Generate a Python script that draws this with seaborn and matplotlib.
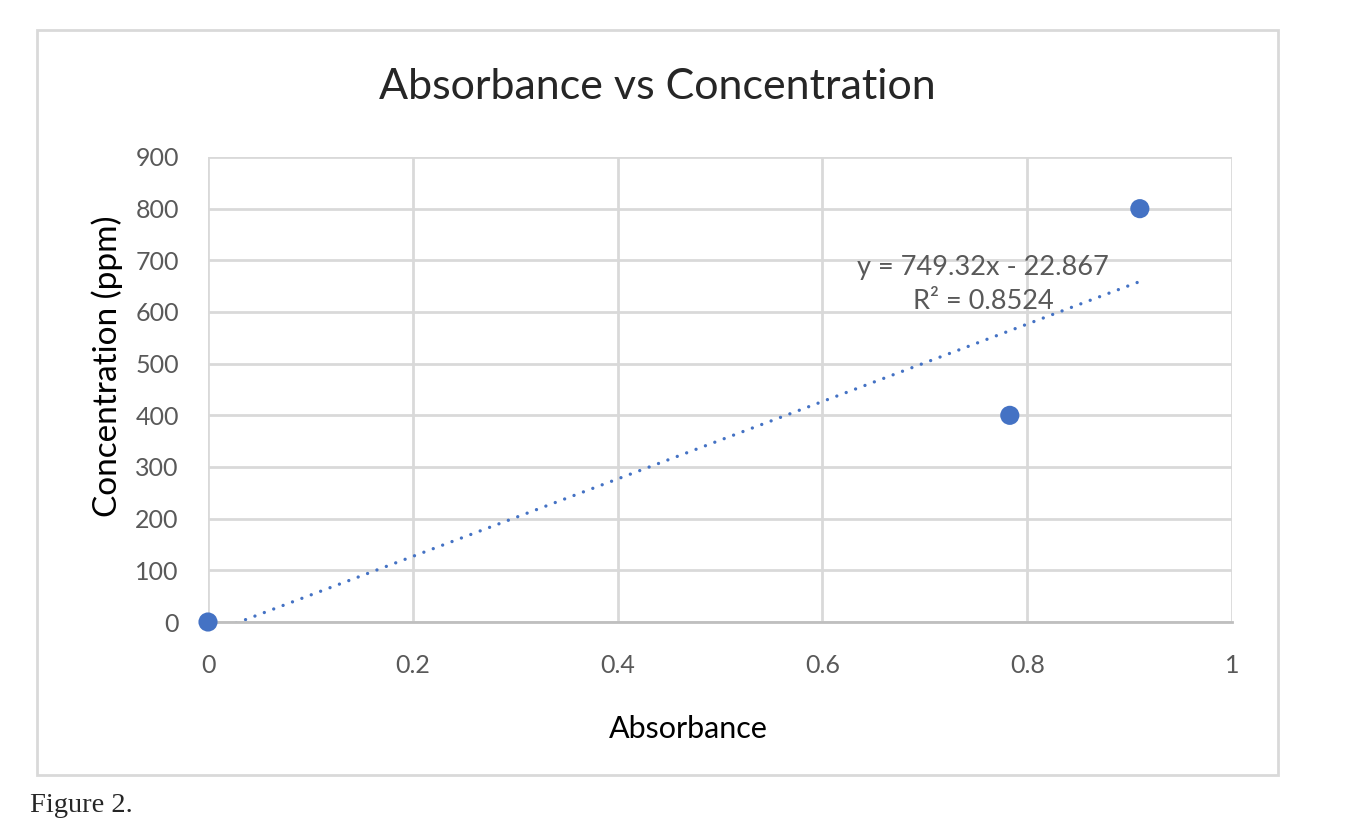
import numpy as np
import pandas as pd
import seaborn as sns
import matplotlib.pyplot as plt
from matplotlib.patches import Rectangle

# Data
absorbance = [0.0, 0.783, 0.91]
concentration = [0, 400, 800]
x_ticks = [0, 0.2, 0.4, 0.6, 0.8, 1.0]
x_tick_labels = ["0", "0.2", "0.4", "0.6", "0.8", "1"]
y_ticks = [0, 100, 200, 300, 400, 500, 600, 700, 800, 900]
eq_text = "y = 749.32x - 22.867\nR² = 0.8524"

blue = "#4472C4"
grid_gray = "#D9D9D9"
text_gray = "#595959"

sns.set_style("white")
plt.rcParams['font.family'] = ['Lato', 'DejaVu Sans']

df = pd.DataFrame({'Absorbance': absorbance, 'Concentration': concentration})

fig = plt.figure(figsize=(13.68, 8.18), dpi=100)
ax = fig.add_axes([208 / 1368, 1 - 622 / 818, 1024 / 1368, 465 / 818])

# outer chart border
fig.patches.append(Rectangle((37 / 1368, 1 - 775 / 818), 1241 / 1368, 745 / 818,
                             transform=fig.transFigure, fill=False,
                             edgecolor=grid_gray, linewidth=2))

# linear trendline (dotted)
sns.regplot(data=df, x='Absorbance', y='Concentration', ax=ax, ci=None,
            scatter=False, truncate=True,
            line_kws={'color': blue, 'linewidth': 2.4,
                      'linestyle': (0, (0.01, 3.0)),
                      'dash_capstyle': 'round'})

sns.scatterplot(data=df, x='Absorbance', y='Concentration', ax=ax,
                color=blue, s=190, edgecolor='none', zorder=5, clip_on=False)

ax.set_xlim(0, 1)
ax.set_ylim(0, 900)
ax.set_xticks(x_ticks)
ax.set_xticklabels(x_tick_labels)
ax.set_yticks(y_ticks)
ax.grid(True, color=grid_gray, linewidth=2)
ax.set_axisbelow(True)
for side in ['top', 'right', 'left']:
    ax.spines[side].set_visible(False)
ax.spines['bottom'].set_color('#BFBFBF')
ax.spines['bottom'].set_linewidth(2)
ax.tick_params(axis='both', length=0, labelsize=18, colors=text_gray)
ax.tick_params(axis='x', pad=23)
ax.tick_params(axis='y', pad=21)

ax.set_xlabel('Absorbance', fontsize=22, color='black')
ax.xaxis.set_label_coords((688 - 208) / 1024, (622 - 729) / 465)
ax.xaxis.label.set_va('center')
ax.set_ylabel('Concentration (ppm)', fontsize=24, color='black')
ax.yaxis.set_label_coords((107 - 208) / 1024, (622 - 366) / 465)
ax.yaxis.label.set_va('center')

fig.text(657 / 1368, 1 - 87 / 818, 'Absorbance vs Concentration',
         fontsize=31, ha='center', va='center')

ax.text(0.757, 654, eq_text, ha='center', va='center', fontsize=19.5,
        color=text_gray, linespacing=1.45)

fig.text(30 / 1368, 1 - 806 / 818, 'Figure 2.', family='Liberation Serif',
         fontsize=20.5, va='center', ha='left')

plt.savefig('out.png', dpi=100)
plt.close()
